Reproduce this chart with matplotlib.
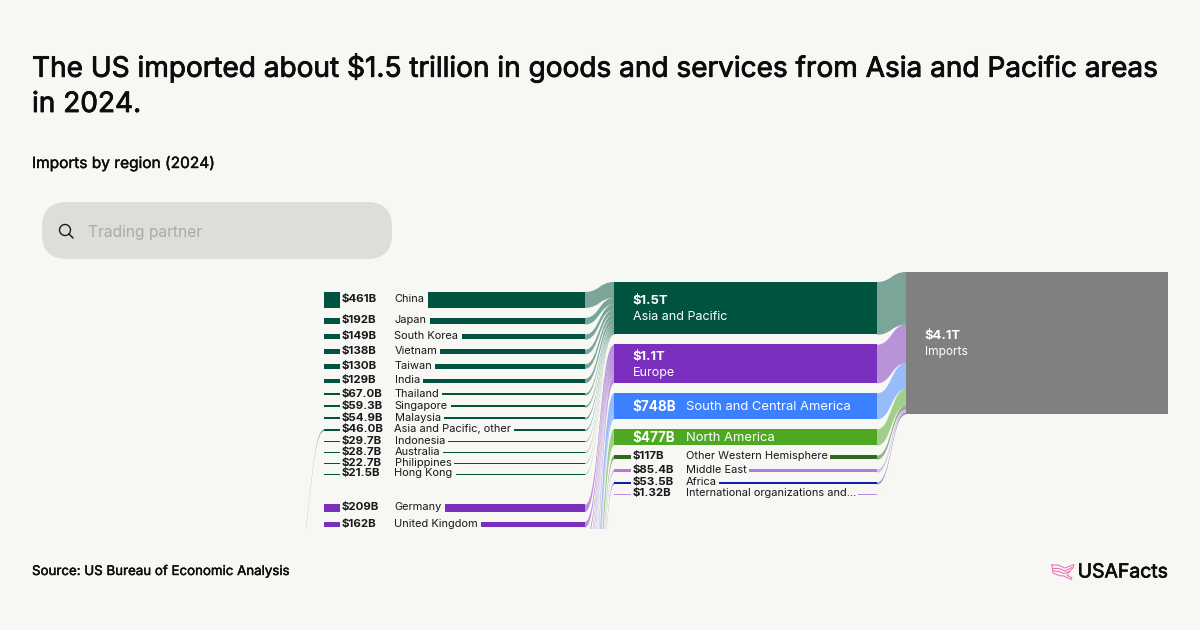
import math
import matplotlib
matplotlib.use("Agg")
import matplotlib.pyplot as plt
from matplotlib.path import Path
from matplotlib.patches import PathPatch, Rectangle, FancyBboxPatch, Circle
from matplotlib.patheffects import withStroke

# Imports by partner, billions of dollars
asia_partners = ["China", "Japan", "South Korea", "Vietnam", "Taiwan", "India", "Thailand", "Singapore",
                 "Malaysia", "Asia and Pacific, other", "Indonesia", "Australia", "Philippines", "Hong Kong"]
asia_values = [461, 192, 149, 138, 130, 129, 67.0, 59.3, 54.9, 46.0, 29.7, 28.7, 22.7, 21.5]
europe_partners = ["Germany", "United Kingdom", "Ireland", "France", "Italy", "Switzerland", "Netherlands",
                   "Spain", "Belgium", "Sweden", "Denmark", "Austria", "Europe, other"]
europe_values = [209, 162, 116, 92, 88, 85, 55, 33, 32, 22, 20, 18, 188]
south_central_partners = ["Mexico", "Brazil", "Colombia", "South and Central America, other"]
south_central_values = [560, 47, 20, 121]
north_america_partners = ["Canada"]
north_america_values = [477]
other_wh_partners = ["Other Western Hemisphere"]
other_wh_values = [117]
middle_east_partners = ["Middle East"]
middle_east_values = [85.4]
africa_partners = ["Africa"]
africa_values = [53.5]
intl_partners = ["International organizations"]
intl_values = [1.32]

regions = ["Asia and Pacific", "Europe", "South and Central America", "North America",
           "Other Western Hemisphere", "Middle East", "Africa", "International organizations and…"]
region_colors = ["#00543F", "#7B2FBE", "#3A80FF", "#4FA823", "#2F6A1E", "#B877DC", "#0B1FA8", "#B58BE8"]
region_partner_values = [asia_values, europe_values, south_central_values, north_america_values,
                         other_wh_values, middle_east_values, africa_values, intl_values]
region_partner_names = [asia_partners, europe_partners, south_central_partners, north_america_partners,
                        other_wh_partners, middle_east_partners, africa_partners, intl_partners]

BG = "#F7F8F4"
INK = "#17191A"
DARK = "#0B0C0C"
PX = 0.0345          # ribbon pixels per billion
GAP = 10.0
FONT = "Inter"


def pt(px):
    return px * 72 / 100


def money(v):
    if v >= 1000:
        return f"${v / 1000:.1f}T"
    if v >= 100:
        return f"${v:.0f}B"
    if v >= 10:
        return f"${v:.1f}B"
    return f"${v:.2f}B"


fig = plt.figure(figsize=(12, 6.3), dpi=100, facecolor=BG)
ax = fig.add_axes([0, 0, 1, 1])
ax.set_xlim(0, 1200)
ax.set_ylim(630, 0)
ax.axis("off")
clip = Rectangle((0, 0), 1200, 529, transform=ax.transData)


def ribbon(x0, x1, a0, a1, b0, b1, color, alpha=0.5):
    mx = (x0 + x1) / 2
    verts = [(x0, a0), (mx, a0), (mx, b0), (x1, b0), (x1, b1), (mx, b1), (mx, a1), (x0, a1), (x0, a0)]
    codes = [Path.MOVETO, Path.CURVE4, Path.CURVE4, Path.CURVE4, Path.LINETO,
             Path.CURVE4, Path.CURVE4, Path.CURVE4, Path.CLOSEPOLY]
    p = PathPatch(Path(verts, codes), facecolor=color, edgecolor="none", alpha=alpha, zorder=2)
    ax.add_patch(p)
    p.set_clip_path(clip)


def bar(x0, x1, y0, y1, color, z=3):
    # Bars sit on whole pixel rows so thin ones stay crisp
    top = math.floor(y0 + 0.15)
    h = y1 - y0
    height = max(1, round(h)) if h < 3 else math.floor(y1 + 0.15) - top
    r = Rectangle((round(x0), top), round(x1) - round(x0), height, facecolor=color, edgecolor="none", zorder=z)
    ax.add_patch(r)
    r.set_clip_path(clip)


def label(x, y, s, size, color=INK, weight="normal"):
    return ax.text(x, y, s, fontsize=pt(size), color=color, weight=weight, family=FONT,
                   va="center", ha="left", zorder=5)


def heading(x, y, s, size, ha="left", stroke=0.45):
    return ax.text(x, y, s, fontsize=pt(size), color=DARK, family=FONT, va="center", ha=ha,
                   path_effects=[withStroke(linewidth=stroke, foreground=DARK)])


renderer = fig.canvas.get_renderer()
inv = ax.transData.inverted()


def right_edge(t):
    return inv.transform(t.get_window_extent(renderer))[1][0]


# Region column, stacked with fixed gaps from the top
region_totals = [sum(v) for v in region_partner_values]
grand_total = sum(region_totals)
region_tops = []
y = 282
for total in region_totals:
    region_tops.append(y)
    y += total * PX + 10

# Imports column and the ribbons feeding it
imp_top = 272
imp_y = imp_top
for i, total in enumerate(region_totals):
    h = total * PX
    ribbon(877, 906, region_tops[i], region_tops[i] + h, imp_y, imp_y + h, region_colors[i])
    imp_y += h
bar(906, 1168, imp_top, imp_y, "#808080")
label(924.5, imp_top + (imp_y - imp_top) / 2 - 7.5, money(grand_total), 13, "white", "bold")
label(925, imp_top + (imp_y - imp_top) / 2 + 8.5, "Imports", 12, "white")

# Partner rows and their ribbons into each region
row_y = 292
for i, (names, vals) in enumerate(zip(region_partner_names, region_partner_values)):
    stack = region_tops[i]
    for name, v in zip(names, vals):
        h = v * PX
        ribbon(585, 614, row_y, row_y + h, stack, stack + h, region_colors[i])
        if row_y < 529:
            mid = row_y + h / 2
            bar(324, 340, row_y, row_y + h, region_colors[i])
            label(342, mid - 1, money(v), 11.5, INK, "bold")
            t = label(394.5, mid - 1, name, 11)
            bar(right_edge(t) + 3, 585, row_y, row_y + h, region_colors[i])
        if name == "Asia and Pacific, other":
            # This partner has one further upstream ribbon, mostly below the cut-off
            ribbon(295, 324, 565, 565 + h, row_y, row_y + h, region_colors[i], alpha=0.5)
        stack += h
        row_y += h + GAP
    row_y += 20

# Region bars and labels
for i, (name, total) in enumerate(zip(regions, region_totals)):
    top = region_tops[i]
    h = total * PX
    c = region_colors[i]
    mid = top + h / 2
    if i < 2:
        bar(614, 877, top, top + h, c)
        label(632.5, mid - 7.5, money(total), 13, "white", "bold")
        label(633, mid + 8.5, name, 12.5, "white")
    elif i < 4:
        bar(614, 877, top, top + h, c)
        label(632.5, mid + 1, money(total), 13.5, "white", "bold")
        label(686, mid + 1, name, 13, "white")
    else:
        bar(614, 631, top, top + h, c)
        label(633, mid - 1.5, money(total), 11.5, INK, "bold")
        t = label(686, mid - 1.5, name, 11)
        bar(right_edge(t) + 2, 877, top, top + h, c)

# Title block
heading(32, 67.5, "The US imported about $1.5 trillion in goods and services from Asia and Pacific areas", 28, stroke=0.6)
heading(32, 104.5, "in 2024.", 28, stroke=0.6)
heading(32, 163, "Imports by region (2024)", 15.45, stroke=0.3)

# Search box
ax.add_patch(FancyBboxPatch((42 + 25, 202 + 25), 350 - 50, 57 - 50, boxstyle="round,pad=25,rounding_size=25",
                            facecolor="#DDDED8", edgecolor="none", zorder=1, mutation_aspect=1))
ax.add_patch(Circle((65, 230), 5.5, facecolor="none", edgecolor="#1B1B1B", lw=1.0, zorder=3))
ax.plot([69, 73], [234, 238], color="#1B1B1B", lw=1.1, zorder=3, solid_capstyle="round")
ax.text(88, 232.5, "Trading partner", fontsize=pt(15.5), color="#A9AAA6", family=FONT, va="center")

# Footer
heading(32, 572, "Source: US Bureau of Economic Analysis", 13.3, stroke=0.3)
heading(1168, 572.5, "USAFacts", 19.4, ha="right", stroke=0.5)

# Logo mark: outlined map drawn as nested pink contours
pink = "#F276BE"
outline_x = [1052, 1058, 1065, 1074, 1073, 1069, 1067, 1072, 1071, 1064, 1059, 1053, 1052]
outline_y = [565, 565, 568, 564.5, 568, 572, 575, 578, 579.5, 576, 575.5, 573, 565]
ax.plot(outline_x, outline_y, color=pink, lw=0.8, zorder=3)
ax.plot([1053, 1059, 1065, 1072], [568.5, 568.5, 571, 567.5], color=pink, lw=0.8, zorder=3)
ax.plot([1053.5, 1059, 1064, 1069], [571, 571.5, 573.5, 571.5], color=pink, lw=0.8, zorder=3)

fig.savefig("out.png", dpi=100, facecolor=BG)
